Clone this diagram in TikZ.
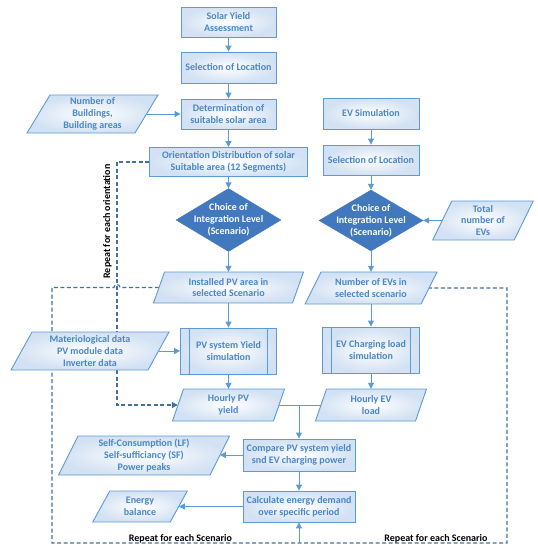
\documentclass[tikz,border=0pt]{standalone}
\usepackage{fontspec}
\setmainfont{Carlito}
\usetikzlibrary{shapes.geometric,arrows.meta,backgrounds}
\definecolor{bord}{HTML}{5B9BD5}
\definecolor{txt}{HTML}{4A86C8}
\definecolor{fillb}{HTML}{D2E1F3}
\definecolor{diac}{HTML}{4178BE}
\definecolor{dashc}{HTML}{41719C}
\tikzset{
  txtstyle/.style={text=txt, font=\bfseries\fontsize{10}{11.8}\selectfont, align=center},
  box/.style={txtstyle, rectangle, draw=bord, line width=0.9pt, inner color=white, outer color=fillb, inner sep=0pt},
  plain/.style={txtstyle, rectangle, inner sep=0pt},
  dshape/.style={diamond, draw=diac, fill=diac, inner sep=0pt},
  dtext/.style={text=white, font=\bfseries\fontsize{10}{11.8}\selectfont, align=center},
  arr/.style={draw=bord, line width=1pt, -{Triangle[length=6pt,width=6pt]}},
  lin/.style={draw=bord, line width=1pt},
  dsh/.style={draw=dashc, line width=1.1pt, dash pattern=on 4pt off 2.5pt},
  lbl/.style={font=\bfseries\fontsize{10}{12}\selectfont, text=black, inner sep=0pt}
}
\newcommand\mypara[7]{%
  \path[draw=bord, line width=0.9pt, inner color=white, outer color=fillb]
    ({#2-#4/2+#6/2},{#3-#5/2}) -- ({#2+#4/2+#6/2},{#3-#5/2}) --
    ({#2+#4/2-#6/2},{#3+#5/2}) -- ({#2-#4/2-#6/2},{#3+#5/2}) -- cycle;
  \node[plain, minimum width=#4pt, minimum height=#5pt] (#1) at (#2,#3) {#7};
}
\newcommand\inlines[1]{%
  \draw[draw=bord, line width=0.9pt] ([xshift=9.5pt]#1.north west) -- ([xshift=9.5pt]#1.south west);
  \draw[draw=bord, line width=0.9pt] ([xshift=-9.5pt]#1.north east) -- ([xshift=-9.5pt]#1.south east);
}
\begin{document}
\begin{tikzpicture}[x=1pt,y=-1pt]
\useasboundingbox (0,0) rectangle (538,550);

% left column
\node[box, minimum width=95pt, minimum height=30pt] (sya) at (228.5,22) {Solar Yield\\Assessment};
\node[box, minimum width=95pt, minimum height=31pt] (sel1) at (228.5,67.5) {Selection of Location};
\node[box, minimum width=95pt, minimum height=30pt] (det) at (228.5,114) {Determination of\\suitable solar area};
\node[box, minimum width=158pt, minimum height=29pt] (ori) at (228.5,162) {Orientation Distribution of solar\\Suitable area (12 Segments)};
\node[dshape, minimum width=105pt, minimum height=63pt, label={[dtext]center:Choice of\\Integration Level\\(Scenario)}] (d1) at (228.5,220) {};
\mypara{ipv}{228.5}{287.5}{139}{31}{11}{Installed PV area in\\selected Scenario}
\node[box, minimum width=96pt, minimum height=46pt] (pvs) at (228.5,351) {PV system Yield\\simulation};
\inlines{pvs}
\mypara{hpv}{228.5}{405}{101}{32}{11}{Hourly PV\\yield}
\mypara{mat}{90}{351}{137}{38}{21}{Materiological data\\PV module data\\Inverter data}
\mypara{nob}{92.5}{114}{108}{38}{23}{Number of\\Buildings,\\Building areas}

% right column
\node[box, minimum width=96pt, minimum height=31pt] (evs) at (371,113.5) {EV Simulation};
\node[box, minimum width=96pt, minimum height=30pt] (sel2) at (371,160) {Selection of Location};
\node[dshape, minimum width=104pt, minimum height=61pt, label={[dtext]center:Choice of\\Integration Level\\(Scenario)}] (d2) at (371,220.5) {};
\mypara{tot}{483}{220.5}{81.5}{39}{19}{Total\\number of\\EVs}
\mypara{nev}{371}{288}{116}{32}{16}{Number of EVs in\\selected scenario}
\node[box, minimum width=97pt, minimum height=46pt] (evl) at (371,350) {EV Charging load\\simulation};
\inlines{evl}
\mypara{hev}{371}{405}{100}{32}{11}{Hourly EV\\load}

% bottom
\node[box, minimum width=112pt, minimum height=32pt] (cmp) at (299,455) {Compare PV system yield\\snd EV charging power};
\node[box, minimum width=112pt, minimum height=31pt] (calc) at (299,506.5) {Calculate energy demand\\over specific period};
\mypara{sc}{144}{455.5}{151.5}{39}{19.5}{Self-Consumption (LF)\\Self-sufficiancy (SF)\\Power peaks}
\mypara{eb}{140}{506.5}{77.5}{31}{17}{Energy\\balance}

% arrows
\draw[arr] (sya) -- (sel1);
\draw[arr] (sel1) -- (det);
\draw[arr] (det) -- (ori);
\draw[arr] (ori) -- (d1);
\draw[arr] (d1) -- (ipv);
\draw[arr] (ipv) -- (pvs);
\draw[arr] (pvs) -- (hpv);
\draw[arr] (mat.east) -- (pvs.west);
\draw[arr] (nob.east) -- (det.west);
\draw[arr] (evs) -- (sel2);
\draw[arr] (sel2) -- (d2);
\draw[arr] (d2) -- (nev);
\draw[arr] (tot.west) -- (d2.east);
\draw[arr] (nev) -- (evl);
\draw[arr] (evl) -- (hev);
\draw[lin] (hpv.east) -- (hev.west);
\draw[arr] (cmp.north |- hpv.east) -- (cmp.north);
\draw[arr] (cmp.west) -- (sc.east |- cmp.west);
\draw[arr] (cmp) -- (calc);
\draw[arr] (calc.west) -- (eb.east |- calc.west);
\coordinate (cb) at (299,543);
\draw[arr] (cb) -- (calc.south);

% dashed loops
\begin{scope}[on background layer]
\draw[dsh, -{Triangle[length=6pt,width=6pt]}] (ori.west) -| (117,405) -- (hpv.west);
\draw[dsh] (ipv.west) -- (120,287.5) arc[start angle=0, end angle=-180, radius=3] -- (52,287.5) -- (52,543) -- (507,543) -- (507,288) -- (nev.east);
\end{scope}

% labels
\node[lbl, rotate=90] (lo) at (107.5,221.5) {Repeat for each orientation};
\node[lbl, anchor=base] (ls1) at (180.5,541) {Repeat for each Scenario};
\node[lbl, anchor=base] (ls2) at (436,541) {Repeat for each Scenario};
\end{tikzpicture}
\end{document}
